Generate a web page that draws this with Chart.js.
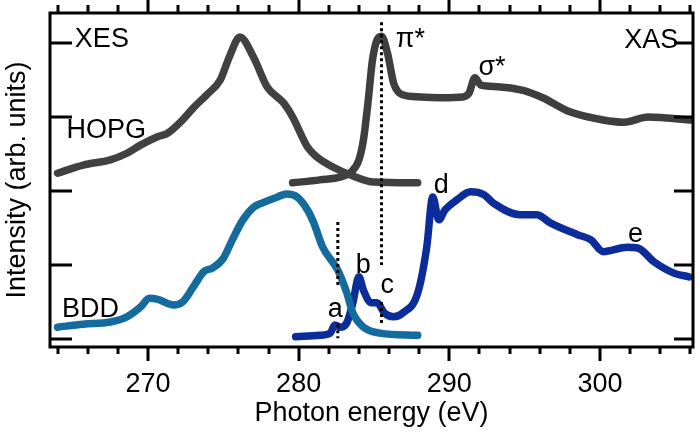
<!DOCTYPE html>
<html><head><meta charset="utf-8">
<script src="https://cdn.jsdelivr.net/npm/chart.js@4.4.1/dist/chart.umd.min.js"></script>
<style>html,body{margin:0;padding:0;background:#fff}#wrap{width:700px;height:434px}</style>
</head><body><div id="wrap"><canvas id="c" width="700" height="434"></canvas></div>
<script>
// ---- data (photon energy in eV, intensity in arb. units) ----
const hopgXesE = [264.0, 265.7, 267.5, 268.6, 269.5, 270.6, 271.3, 272.3, 273.0, 273.9, 274.8, 275.4, 276.1, 277.0, 277.9, 279.0, 279.6, 280.6, 281.2, 282.3, 283.4, 285.0, 287.9];
const hopgXesI = [2.24, 2.35, 2.42, 2.51, 2.62, 2.73, 2.78, 2.96, 3.12, 3.30, 3.50, 3.81, 4.08, 3.81, 3.41, 3.19, 3.00, 2.59, 2.46, 2.32, 2.22, 2.12, 2.11];

const hopgXasE = [279.6, 281.4, 282.8, 283.5, 284.0, 284.3, 284.6, 284.9, 285.2, 285.5, 285.9, 286.3, 286.6, 286.9, 288.1, 289.5, 290.9, 291.3, 291.7, 292.1, 293.2, 294.9, 296.2, 298.0, 300.2, 301.6, 303.2, 304.2, 306.0];
const hopgXasI = [2.11, 2.15, 2.19, 2.26, 2.42, 2.69, 3.19, 3.77, 4.04, 4.09, 3.86, 3.46, 3.34, 3.30, 3.27, 3.26, 3.27, 3.32, 3.53, 3.43, 3.41, 3.36, 3.26, 3.07, 2.96, 2.93, 3.00, 2.99, 2.96];

const bddXesE = [264.0, 265.7, 267.5, 268.6, 269.5, 270.1, 270.6, 271.7, 272.3, 273.0, 273.7, 274.3, 275.0, 275.6, 276.3, 277.0, 277.6, 278.6, 279.2, 279.9, 280.6, 281.0, 281.6, 282.6, 283.2, 283.6, 284.3, 285.4, 287.9];
const bddXesI = [0.16, 0.20, 0.23, 0.30, 0.43, 0.55, 0.54, 0.46, 0.50, 0.70, 0.91, 0.96, 1.09, 1.34, 1.61, 1.78, 1.84, 1.92, 1.96, 1.92, 1.74, 1.57, 1.24, 0.93, 0.62, 0.35, 0.16, 0.08, 0.05];

const bddXasE = [279.8, 281.4, 282.1, 282.4, 282.8, 283.2, 283.6, 284.0, 284.3, 284.8, 285.2, 285.7, 286.3, 286.9, 287.9, 288.5, 288.9, 289.3, 289.7, 290.5, 291.4, 292.3, 292.9, 294.7, 295.8, 296.7, 298.5, 299.4, 300.2, 301.8, 302.5, 303.6, 304.9, 305.9];
const bddXasI = [0.03, 0.05, 0.08, 0.19, 0.16, 0.22, 0.49, 0.84, 0.66, 0.49, 0.49, 0.35, 0.30, 0.35, 0.62, 1.24, 1.92, 1.61, 1.74, 1.88, 1.99, 1.95, 1.84, 1.68, 1.68, 1.57, 1.41, 1.34, 1.18, 1.24, 1.23, 1.04, 0.89, 0.84];

// dotted reference lines (energy, intensity extent); null = gap under a label
const piLineE = [285.5, 285.5, 285.5, 285.5, 285.5];
const piLineI = [4.28, 1.0, null, 0.5, 0.2];
const aLineE = [282.6, 282.6, 282.6, 282.6, 282.6];
const aLineI = [1.58, 0.70, null, 0.2, 0.01];

const xTickValues = [270, 280, 290, 300];
const xMinorValues = [264, 266, 268, 270, 272, 274, 276, 278, 280, 282, 284, 286, 288, 290, 292, 294, 296, 298, 300, 302, 304, 306];
const yTickValues = [0, 1, 2, 3, 4];

const labelTexts = ['XES', 'XAS', 'HOPG', 'BDD', 'π*', 'σ*', 'a', 'b', 'c', 'd', 'e'];
const labelE = [265.15, 305.2, 264.6, 264.3, 286.45, 291.93, 282.43, 284.29, 285.88, 289.47, 302.36];
const labelI = [3.946, 3.93, 2.716, 0.297, 3.95, 3.57, 0.30, 0.89, 0.62, 1.97, 1.31];
const labelAlign = ['left', 'right', 'left', 'left', 'left', 'left', 'center', 'center', 'center', 'center', 'center'];

const FONT = '"Liberation Sans", Arial, Helvetica, sans-serif';
const pts = (xs, ys) => xs.map((x, i) => ({x: x, y: ys[i]}));

const curve = (data, color) => ({
  data: data, borderColor: color, backgroundColor: color, borderWidth: 7.5,
  pointRadius: 0, cubicInterpolationMode: 'monotone', fill: false,
  borderCapStyle: 'round', borderJoinStyle: 'round'
});
const dotted = (data) => ({
  data: data, borderColor: '#000', borderWidth: 3, borderDash: [3, 3],
  pointRadius: 0, tension: 0, spanGaps: false, fill: false
});

const decor = {
  id: 'decor',
  afterDatasetsDraw(chart) {
    const {ctx, chartArea: a, scales: {x, y}} = chart;
    ctx.save();
    ctx.fillStyle = '#000';
    ctx.font = '27px ' + FONT;
    ctx.textBaseline = 'alphabetic';
    labelTexts.forEach((t, i) => {
      ctx.textAlign = labelAlign[i];
      ctx.fillText(t, x.getPixelForValue(labelE[i]), y.getPixelForValue(labelI[i]));
    });
    ctx.strokeStyle = '#000';
    ctx.lineWidth = 3;
    ctx.lineCap = 'butt';
    ctx.strokeRect(a.left, a.top, a.right - a.left, a.bottom - a.top);
    xMinorValues.forEach(v => {
      const px = Math.round(x.getPixelForValue(v));
      const major = xTickValues.includes(v);
      ctx.beginPath();
      ctx.moveTo(px, a.bottom);
      ctx.lineTo(px, a.bottom + (major ? 14 : 7));
      ctx.moveTo(px, a.top);
      ctx.lineTo(px, a.top - (major ? 14 : 8));
      ctx.stroke();
    });
    yTickValues.forEach(v => {
      const py = Math.round(y.getPixelForValue(v));
      ctx.beginPath();
      ctx.moveTo(a.left, py); ctx.lineTo(a.left + 22, py);
      ctx.moveTo(a.right, py); ctx.lineTo(a.right - 19, py);
      ctx.stroke();
    });
    ctx.restore();
  }
};

new Chart(document.getElementById('c'), {
  type: 'line',
  data: {
    datasets: [
      dotted(pts(piLineE, piLineI)),
      dotted(pts(aLineE, aLineI)),
      curve(pts(bddXesE, bddXesI), '#136b9e'),
      curve(pts(bddXasE, bddXasI), '#0c2c9a'),
      curve(pts(hopgXesE, hopgXesI), '#414141'),
      curve(pts(hopgXasE, hopgXasI), '#3e3e3e')
    ]
  },
  options: {
    responsive: false, animation: false, devicePixelRatio: 1,
    layout: {padding: {top: 13, right: 7, left: 0, bottom: 0}},
    plugins: {legend: {display: false}, tooltip: {enabled: false}},
    scales: {
      x: {
        type: 'linear', min: 263.5, max: 306.17,
        afterBuildTicks: s => { s.ticks = xTickValues.map(v => ({value: v})); },
        afterFit: s => { s.height = 87; },
        grid: {display: false, drawTicks: false},
        border: {display: false},
        ticks: {autoSkip: false, maxRotation: 0, padding: 21, color: '#000',
                font: {family: FONT, size: 27}, callback: v => String(v)},
        title: {display: true, text: 'Photon energy (eV)', color: '#000',
                font: {family: FONT, size: 27}, padding: {top: 0, bottom: 4}}
      },
      y: {
        type: 'linear', min: -0.108, max: 4.405,
        afterFit: s => { s.width = 50; },
        grid: {display: false, drawTicks: false},
        border: {display: false},
        ticks: {display: false},
        title: {display: true, text: 'Intensity (arb. units)', color: '#000',
                font: {family: FONT, size: 27}, padding: {top: 1, bottom: 0}}
      }
    }
  },
  plugins: [decor]
});
</script></body></html>
